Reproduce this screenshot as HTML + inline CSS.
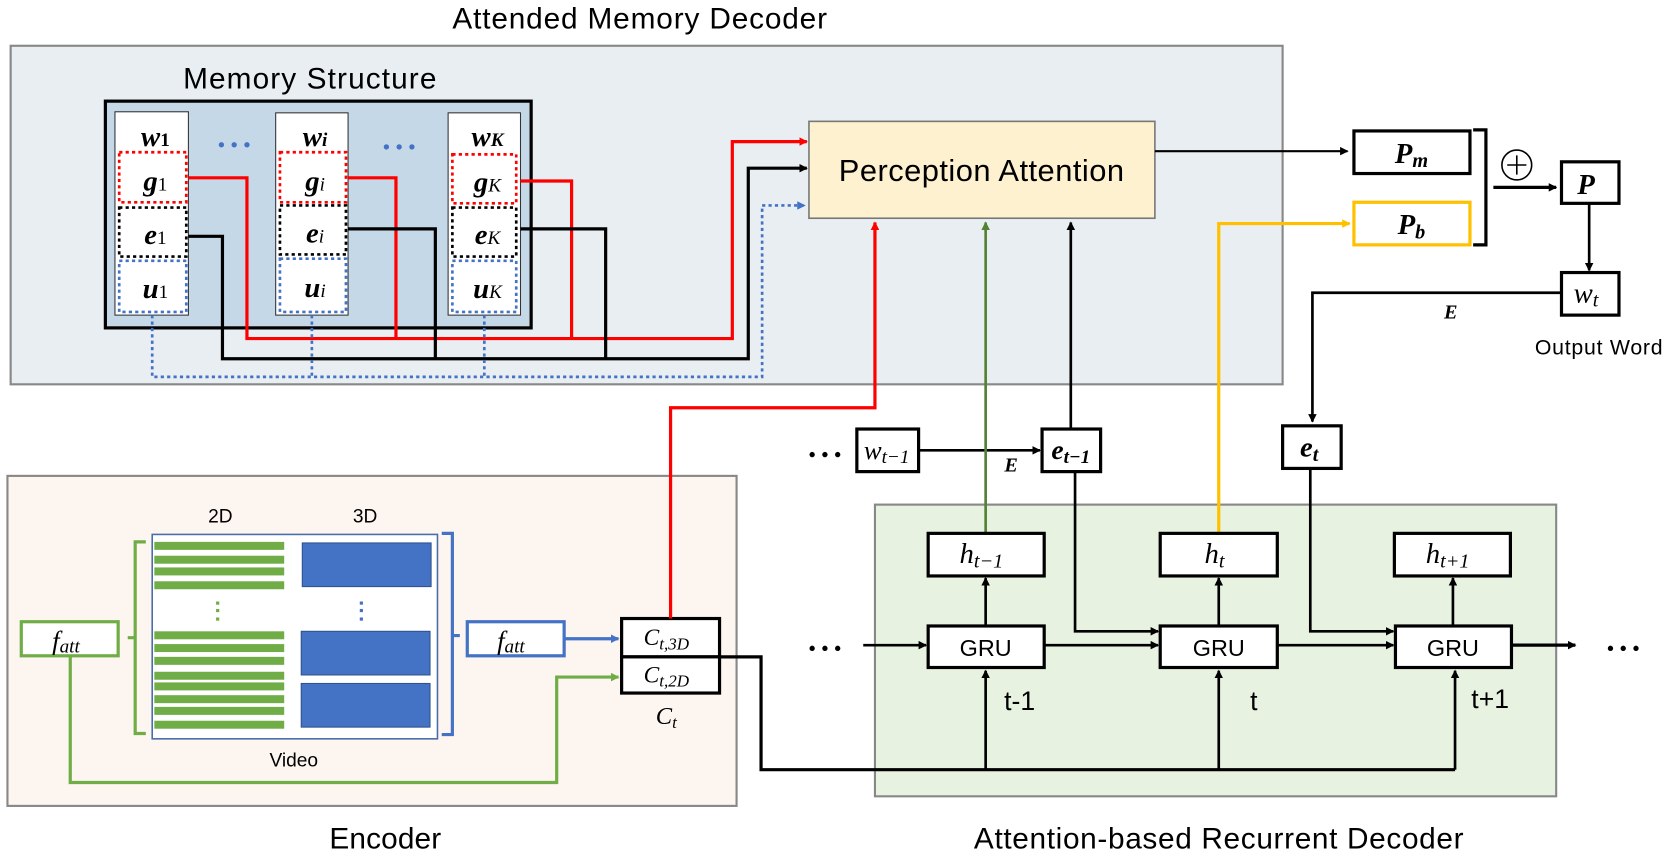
<!DOCTYPE html>
<html><head><meta charset="utf-8"><style>
html,body{margin:0;padding:0;background:#fff;}
svg{display:block;}
text{font-family:"Liberation Sans",sans-serif;}
.m,.m *{font-family:"Liberation Serif",serif;font-style:italic;font-weight:bold;}
.mi,.mi *{font-family:"Liberation Serif",serif;font-style:italic;}
.n{font-style:normal !important;}
.nw{font-weight:normal !important;}
</style></head><body>
<svg width="1669" height="857" viewBox="0 0 1568 805" preserveAspectRatio="none" xmlns="http://www.w3.org/2000/svg">
<defs>
<marker id="ak" markerWidth="8" markerHeight="8" refX="7" refY="4" orient="auto" markerUnits="userSpaceOnUse"><path d="M0,0 L8,4 L0,8z" fill="#000"/></marker>
<marker id="ar" markerWidth="8" markerHeight="8" refX="7" refY="4" orient="auto" markerUnits="userSpaceOnUse"><path d="M0,0 L8,4 L0,8z" fill="#f00"/></marker>
<marker id="ab" markerWidth="8" markerHeight="8" refX="7" refY="4" orient="auto" markerUnits="userSpaceOnUse"><path d="M0,0 L8,4 L0,8z" fill="#4472c4"/></marker>
<marker id="ag" markerWidth="8" markerHeight="8" refX="7" refY="4" orient="auto" markerUnits="userSpaceOnUse"><path d="M0,0 L8,4 L0,8z" fill="#70ad47"/></marker>
<marker id="agd" markerWidth="8" markerHeight="8" refX="7" refY="4" orient="auto" markerUnits="userSpaceOnUse"><path d="M0,0 L8,4 L0,8z" fill="#548235"/></marker>
<marker id="ay" markerWidth="8" markerHeight="8" refX="7" refY="4" orient="auto" markerUnits="userSpaceOnUse"><path d="M0,0 L8,4 L0,8z" fill="#ffc000"/></marker>
</defs>

<!-- titles -->
<text x="601" y="27" font-size="28" text-anchor="middle" textLength="352">Attended Memory Decoder</text>
<text x="362" y="797" font-size="28" text-anchor="middle" textLength="105">Encoder</text>
<text x="1145" y="797" font-size="28" text-anchor="middle" textLength="460">Attention-based Recurrent Decoder</text>

<!-- memory decoder panel -->
<rect x="10" y="43" width="1195" height="318" fill="#e9eef2" stroke="#888" stroke-width="2"/>
<text x="291" y="83" font-size="28" text-anchor="middle" textLength="238">Memory Structure</text>
<rect x="99" y="95" width="400" height="213" fill="#c5d8e8" stroke="#000" stroke-width="3"/>

<!-- columns -->
<g>
<rect x="108" y="105" width="69" height="191" fill="#fff" stroke="#333" stroke-width="1"/>
<rect x="259" y="106" width="68" height="190" fill="#fff" stroke="#333" stroke-width="1"/>
<rect x="421" y="106" width="68" height="190" fill="#fff" stroke="#333" stroke-width="1"/>
<g fill="none" stroke-width="2.5" stroke-dasharray="3,3">
<rect x="112" y="143" width="63" height="47" stroke="#f00"/>
<rect x="112" y="195" width="63" height="46" stroke="#000"/>
<rect x="112" y="245" width="63" height="48" stroke="#4472c4"/>
<rect x="263" y="143" width="62" height="47" stroke="#f00"/>
<rect x="263" y="193" width="62" height="46" stroke="#000"/>
<rect x="263" y="243" width="62" height="50" stroke="#4472c4"/>
<rect x="425" y="145" width="60" height="46" stroke="#f00"/>
<rect x="425" y="195" width="60" height="46" stroke="#000"/>
<rect x="425" y="245" width="60" height="48" stroke="#4472c4"/>
</g>
<g class="m" font-size="27" text-anchor="middle">
<text x="146" y="137">w<tspan font-size="18" class="n">1</tspan></text>
<text x="146" y="179">g<tspan font-size="18" class="n nw">1</tspan></text>
<text x="146" y="229">e<tspan font-size="18" class="n nw">1</tspan></text>
<text x="146" y="280">u<tspan font-size="18" class="n nw">1</tspan></text>
<text x="296" y="137">w<tspan font-size="18">i</tspan></text>
<text x="296" y="179">g<tspan font-size="18" class="nw">i</tspan></text>
<text x="296" y="228">e<tspan font-size="18" class="nw">i</tspan></text>
<text x="296" y="279">u<tspan font-size="18" class="nw">i</tspan></text>
<text x="458" y="137">w<tspan font-size="18">K</tspan></text>
<text x="458" y="180">g<tspan font-size="18" class="nw">K</tspan></text>
<text x="458" y="229">e<tspan font-size="18" class="nw">K</tspan></text>
<text x="458" y="280">u<tspan font-size="18" class="nw">K</tspan></text>
</g>
<g fill="#4472c4"><circle cx="208" cy="136" r="2.5"/><circle cx="220" cy="136" r="2.5"/><circle cx="232" cy="136" r="2.5"/>
<circle cx="363" cy="138" r="2.5"/><circle cx="375" cy="138" r="2.5"/><circle cx="387" cy="138" r="2.5"/></g>
</g>

<!-- memory connections -->
<g fill="none" stroke-width="3">
<polyline points="177,167 232,167 232,318 688,318 688,133 758,133" stroke="#f00" marker-end="url(#ar)"/>
<polyline points="327,167 372,167 372,318" stroke="#f00"/>
<polyline points="489,170 537,170 537,318" stroke="#f00"/>
<polyline points="177,222 209,222 209,337 703,337 703,158 758,158" stroke="#000" marker-end="url(#ak)"/>
<polyline points="327,215 409,215 409,337" stroke="#000"/>
<polyline points="489,215 569,215 569,337" stroke="#000"/>
<g stroke="#4472c4" stroke-dasharray="3,3" stroke-width="2.5">
<polyline points="143,296 143,354 716,354 716,193 756,193" marker-end="url(#ab)"/>
<polyline points="293,296 293,354"/>
<polyline points="455,296 455,354"/>
</g>
</g>

<!-- perception attention -->
<rect x="760" y="114" width="325" height="91" fill="#fdf1cf" stroke="#777" stroke-width="1.5"/>
<text x="922" y="170" font-size="29" text-anchor="middle" textLength="268">Perception Attention</text>

<!-- right side -->
<line x1="1085" y1="142" x2="1266" y2="142" stroke="#000" stroke-width="2" marker-end="url(#ak)"/>
<rect x="1272" y="123" width="109" height="40" fill="#fff" stroke="#000" stroke-width="3"/>
<text x="1326" y="153" class="m" font-size="27" text-anchor="middle">P<tspan font-size="19" dy="4">m</tspan></text>
<rect x="1272" y="190" width="109" height="40" fill="#fff" stroke="#ffc000" stroke-width="3"/>
<text x="1326" y="220" class="m" font-size="27" text-anchor="middle">P<tspan font-size="19" dy="4">b</tspan></text>
<path d="M1384,122 L1396,122 L1396,230 L1384,230" fill="none" stroke="#000" stroke-width="3"/>
<circle cx="1425" cy="155" r="14" fill="none" stroke="#000" stroke-width="1.5"/>
<path d="M1425,146 V164 M1416,155 H1434" stroke="#000" stroke-width="1.5"/>
<line x1="1403" y1="176" x2="1462" y2="176" stroke="#000" stroke-width="3" marker-end="url(#ak)"/>
<rect x="1467" y="152" width="54" height="39" fill="#fff" stroke="#000" stroke-width="3"/>
<text x="1490" y="182" class="m" font-size="27" text-anchor="middle">P</text>
<line x1="1493" y1="191" x2="1493" y2="254" stroke="#000" stroke-width="2.5" marker-end="url(#ak)"/>
<rect x="1467" y="256" width="54" height="40" fill="#fff" stroke="#000" stroke-width="3"/>
<text x="1490" y="284" class="mi" font-size="27" text-anchor="middle">w<tspan font-size="19" dy="4">t</tspan></text>
<text x="1502" y="333" font-size="20" text-anchor="middle" textLength="120">Output Word</text>
<polyline points="1466,275 1233,275 1233,396" fill="none" stroke="#000" stroke-width="2.5" marker-end="url(#ak)"/>
<text x="1363" y="299" class="m" font-size="19" text-anchor="middle">E</text>
<rect x="1205" y="400" width="55" height="40" fill="#fff" stroke="#000" stroke-width="3"/>
<text x="1230" y="429" class="m" font-size="27" text-anchor="middle">e<tspan font-size="19" dy="4">t</tspan></text>

<!-- encoder -->
<rect x="7" y="447" width="685" height="310" fill="#fdf5f0" stroke="#888" stroke-width="2"/>
<text x="207" y="491" font-size="18" text-anchor="middle">2D</text>
<text x="343" y="491" font-size="18" text-anchor="middle">3D</text>
<rect x="143" y="502" width="268" height="192" fill="#fff" stroke="#4a6ea8" stroke-width="1.5"/>
<g fill="#70ad47">
<rect x="145" y="509" width="122" height="7.5"/><rect x="145" y="522" width="122" height="7.5"/>
<rect x="145" y="533" width="122" height="7.5"/><rect x="145" y="546" width="122" height="7.5"/>
<rect x="145" y="593" width="122" height="7.5"/><rect x="145" y="605" width="122" height="7.5"/>
<rect x="145" y="617" width="122" height="7.5"/><rect x="145" y="631" width="122" height="7.5"/>
<rect x="145" y="641" width="122" height="7.5"/><rect x="145" y="653" width="122" height="7.5"/>
<rect x="145" y="664" width="122" height="7.5"/><rect x="145" y="677" width="122" height="7.5"/>
<rect x="203" y="565" width="3" height="3"/><rect x="203" y="572" width="3" height="3"/><rect x="203" y="580" width="3" height="3"/>
</g>
<g fill="#4472c4" stroke="#2f528f" stroke-width="1">
<rect x="284" y="510" width="121" height="41"/>
<rect x="283" y="593" width="121" height="41"/>
<rect x="283" y="642" width="121" height="41"/>
</g>
<g fill="#4472c4"><rect x="338" y="565" width="3" height="3"/><rect x="338" y="572" width="3" height="3"/><rect x="338" y="580" width="3" height="3"/></g>
<text x="276" y="720" font-size="18" text-anchor="middle">Video</text>
<path d="M137,509 L127,509 L127,689 L137,689 M127,599 L120,599" fill="none" stroke="#70ad47" stroke-width="3"/>
<path d="M415,501 L425,501 L425,690 L415,690 M425,597 L432,597" fill="none" stroke="#4472c4" stroke-width="3"/>
<rect x="20" y="584" width="91" height="32" fill="#fff" stroke="#70ad47" stroke-width="3"/>
<text x="62" y="610" class="mi" font-size="25" text-anchor="middle">f<tspan font-size="18" dy="3">att</tspan></text>
<rect x="439" y="584" width="91" height="32" fill="#fff" stroke="#4472c4" stroke-width="3"/>
<text x="480" y="610" class="mi" font-size="25" text-anchor="middle">f<tspan font-size="18" dy="3">att</tspan></text>
<line x1="530" y1="600" x2="581" y2="600" stroke="#4472c4" stroke-width="3" marker-end="url(#ab)"/>
<polyline points="66,616 66,735 523,735 523,636 581,636" fill="none" stroke="#70ad47" stroke-width="3" marker-end="url(#ag)"/>
<rect x="584" y="581" width="92" height="36" fill="#fff" stroke="#000" stroke-width="3"/>
<rect x="584" y="617" width="92" height="34" fill="#fff" stroke="#000" stroke-width="3"/>
<text x="626" y="606" class="mi" font-size="22" text-anchor="middle">C<tspan font-size="16" dy="4">t,3D</tspan></text>
<text x="626" y="641" class="mi" font-size="22" text-anchor="middle">C<tspan font-size="16" dy="4">t,2D</tspan></text>
<text x="626" y="680" class="mi" font-size="23" text-anchor="middle">C<tspan font-size="16" dy="4">t</tspan></text>
<polyline points="630,581 630,383 822,383 822,209" fill="none" stroke="#f00" stroke-width="3" marker-end="url(#ar)"/>

<!-- recurrent decoder -->
<rect x="822" y="474" width="640" height="274" fill="#e8f2e1" stroke="#888" stroke-width="2"/>
<polyline points="676,617 715,617 715,723 1367,723" fill="none" stroke="#000" stroke-width="3"/>
<g stroke="#000" stroke-width="2.5" fill="none">
<line x1="926" y1="723" x2="926" y2="630" marker-end="url(#ak)"/>
<line x1="1145" y1="723" x2="1145" y2="630" marker-end="url(#ak)"/>
<line x1="1367" y1="723" x2="1367" y2="630" marker-end="url(#ak)"/>
<line x1="926" y1="588" x2="926" y2="543" marker-end="url(#ak)"/>
<line x1="1145" y1="588" x2="1145" y2="543" marker-end="url(#ak)"/>
<line x1="1365" y1="588" x2="1365" y2="543" marker-end="url(#ak)"/>
<line x1="811" y1="606" x2="870" y2="606" marker-end="url(#ak)"/>
<line x1="981" y1="606" x2="1088" y2="606" marker-end="url(#ak)"/>
<line x1="1200" y1="606" x2="1309" y2="606" marker-end="url(#ak)"/>
<line x1="1420" y1="606" x2="1480" y2="606" stroke-width="3" marker-end="url(#ak)"/>
<polyline points="1010,443 1010,593 1088,593" marker-end="url(#ak)"/>
<polyline points="1231,440 1231,593 1309,593" marker-end="url(#ak)"/>
<line x1="1006" y1="403" x2="1006" y2="209" marker-end="url(#ak)"/>
<line x1="863" y1="423" x2="977" y2="423" marker-end="url(#ak)"/>
</g>
<line x1="926" y1="501" x2="926" y2="209" stroke="#548235" stroke-width="2.5" marker-end="url(#agd)"/>
<polyline points="1145,501 1145,210 1268,210" fill="none" stroke="#ffc000" stroke-width="3" marker-end="url(#ay)"/>
<g fill="#fff" stroke="#000" stroke-width="3">
<rect x="872" y="501" width="109" height="40"/><rect x="1090" y="501" width="110" height="40"/><rect x="1310" y="501" width="109" height="40"/>
<rect x="872" y="588" width="109" height="39"/><rect x="1090" y="588" width="110" height="39"/><rect x="1311" y="588" width="109" height="39"/>
<rect x="805" y="403" width="58" height="40"/><rect x="979" y="403" width="55" height="40"/>
</g>
<g class="mi" font-size="27" text-anchor="middle">
<text x="922" y="529">h<tspan font-size="19" dy="4">t−1</tspan></text>
<text x="1141" y="529">h<tspan font-size="19" dy="4">t</tspan></text>
<text x="1360" y="529">h<tspan font-size="19" dy="4">t+1</tspan></text>
<text x="833" y="431" font-size="25">w<tspan font-size="18" dy="4">t−1</tspan></text>
</g>
<text x="1006" y="431" class="m" font-size="26" text-anchor="middle">e<tspan font-size="18" dy="4">t−1</tspan></text>
<text x="950" y="443" class="m" font-size="19" text-anchor="middle">E</text>
<g font-size="22" text-anchor="middle">
<text x="926" y="616">GRU</text><text x="1145" y="616">GRU</text><text x="1365" y="616">GRU</text>
</g>
<g font-size="25" text-anchor="middle">
<text x="958" y="667">t-1</text><text x="1178" y="667">t</text><text x="1400" y="665">t+1</text>
</g>
<g fill="#000">
<circle cx="763" cy="427" r="2.5"/><circle cx="775" cy="427" r="2.5"/><circle cx="787" cy="427" r="2.5"/>
<circle cx="763" cy="609" r="2.5"/><circle cx="775" cy="609" r="2.5"/><circle cx="787" cy="609" r="2.5"/>
<circle cx="1513" cy="609" r="2.5"/><circle cx="1525" cy="609" r="2.5"/><circle cx="1537" cy="609" r="2.5"/>
</g>
</svg>
</body></html>
